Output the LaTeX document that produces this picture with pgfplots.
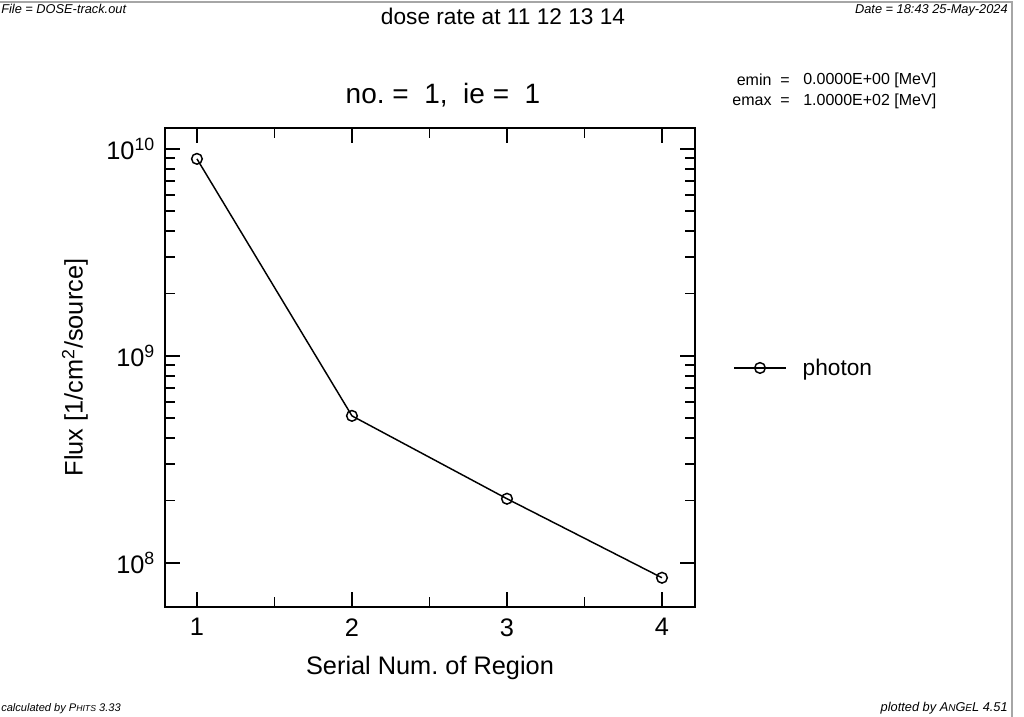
\documentclass[border=0pt]{standalone}
\usepackage{pgfplots}
\pgfplotsset{compat=1.18}
\usepackage{fontspec}
\setmainfont{Liberation Sans}
\newcommand{\fs}[1]{\fontsize{#1}{#1}\selectfont}
\frenchspacing

\begin{document}
\begin{tikzpicture}[x=0.75pt,y=0.75pt]
% page = 1024 x 717 px, 1 px = 0.75pt, origin bottom left
\useasboundingbox (0,0) rectangle (1024,717);
\draw[gray!70,line width=1.5pt] (0,715) -- (1012,715) -- (1012,0);

\node[anchor=north west,inner sep=0pt] at (1,713) {\fs{9.6pt}\itshape File = DOSE-track.out};
\node[anchor=north east,inner sep=0pt] at (1008,713) {\fs{9.6pt}\itshape Date = 18:43 25-May-2024};
\node[inner sep=0pt] at (503,701) {\fs{17pt}dose rate at 11 12 13 14};
\node[inner sep=0pt] at (443,622) {\fs{21pt}no. =\ \ 1,\ \ ie =\ \ 1};
\node[anchor=east,inner sep=0pt] at (790,637) {\fs{12pt}emin\ \ =};
\node[anchor=east,inner sep=0pt] at (790,616) {\fs{12pt}emax\ \ =};
\node[anchor=west,inner sep=0pt] at (803,637) {\fs{12pt}0.0000E+00 [MeV]};
\node[anchor=west,inner sep=0pt] at (803,616) {\fs{12pt}1.0000E+02 [MeV]};
\node[anchor=south west,inner sep=0pt] at (1,3) {\fs{8.3pt}\itshape calculated by P{\fs{6.5pt}HITS} 3.33};
\node[anchor=south east,inner sep=0pt] at (1008,3) {\fs{9.6pt}\itshape plotted by A{\fs{7.5pt}N}G{\fs{7.5pt}E}L 4.51};

\begin{axis}[
    at={(123.75pt,82.5pt)}, anchor=south west,
    scale only axis,
    width=397.5pt, height=359.25pt,
    ymode=log,
    xmin=0.794, xmax=4.213,
    ymin=6.12e7, ymax=1.262e10,
    xtick={1,2,3,4},
    minor xtick={1.5,2.5,3.5},
    ytick={1e8,1e9,1e10},
    yticklabels={10\textsuperscript{8},10\textsuperscript{9},10\textsuperscript{10}},
    tick align=inside,
    major tick length=11.25pt,
    minor tick length=7.5pt,
    axis line style={line width=1.3pt},
    every tick/.style={black,line width=1.3pt},
    tick label style={font=\fs{19pt}},
    /pgf/number format/assume math mode=true,
    xticklabel style={yshift=-5pt},
    yticklabel style={xshift=-4pt},
    xlabel={Serial Num. of Region},
    ylabel={Flux [1/cm\textsuperscript{2}/source]},
    label style={font=\fs{19pt}},
    xlabel style={at={(axis description cs:0.5,-0.127)},anchor=center},
    ylabel style={at={(axis description cs:-0.170,0.5)},anchor=center},
    legend style={at={(axis description cs:1.0717,0.499)},anchor=west,
        draw=none,fill=none,font=\fs{17pt},inner sep=0pt,
        nodes={inner xsep=0pt},
        /tikz/every odd column/.append style={column sep=12pt}},
    legend cell align=left,
    legend image code/.code={%
        \draw[#1,mark repeat=2,mark phase=2] plot coordinates {(0pt,0pt) (19.5pt,0pt) (39pt,0pt)};},
]
\addplot[black,line width=1.1pt,mark=o,mark size=4pt,mark options={fill=white,line width=1.1pt}]
    coordinates {(1,8.95e9) (2,5.13e8) (3,2.04e8) (4,8.47e7)};
\addlegendentry{photon}
\end{axis}
\end{tikzpicture}
\end{document}
